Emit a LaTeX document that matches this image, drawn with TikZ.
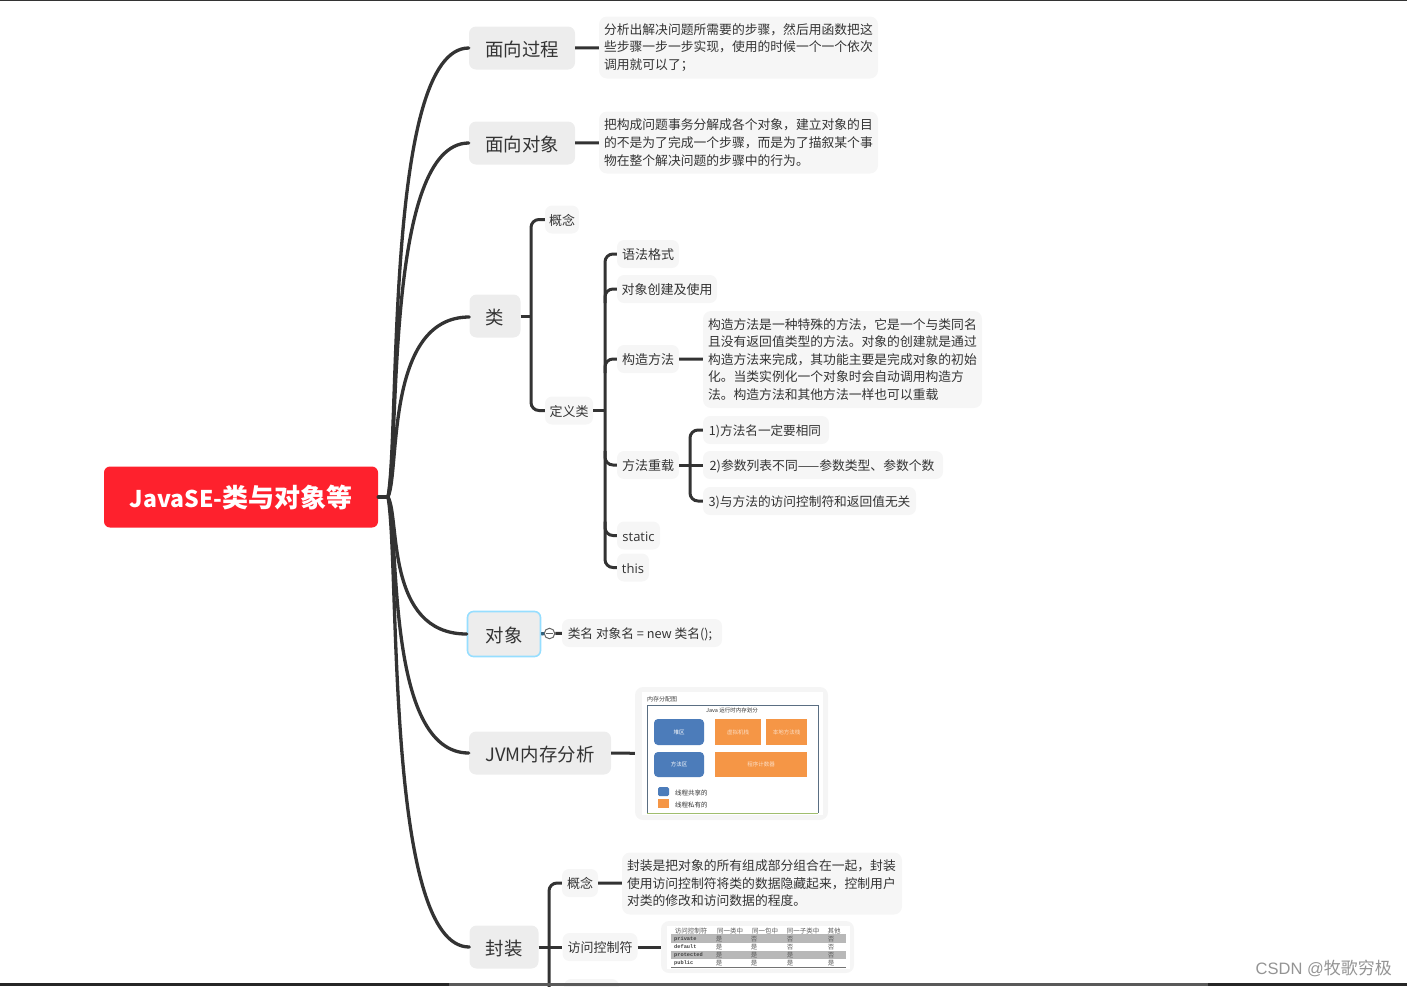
\documentclass[tikz,border=0pt]{standalone}
\usepackage{fontspec}
\setmainfont{Open Sans}
\newfontfamily\cjk{Noto Sans CJK SC}
\newfontfamily\tbl{Liberation Mono}
\newfontfamily\wmf{Liberation Sans}
\usetikzlibrary{calc}
\definecolor{ink}{RGB}{51,51,51}
\definecolor{boxblue}{RGB}{76,124,186}
\definecolor{boxorange}{RGB}{245,150,70}
\begin{document}
\begin{tikzpicture}[x=1pt,y=-1pt,
  mono/.style={font=\cjk\fontsize{#1}{#1}\selectfont,text=ink,inner sep=0pt},
  pill/.style={rounded corners=7pt,fill=black!7,inner sep=0pt,minimum height=43pt,text height=16pt,text depth=0pt},
  sm/.style={rounded corners=7pt,fill=black!3.5,minimum height=28pt,mono=13,text height=11pt,text depth=0pt},
  para/.style={rounded corners=8pt,fill=black!3.5,text=ink,inner xsep=5pt,inner ysep=0pt,align=left,font=\cjk\fontsize{12.8}{17.6}\selectfont},
  conn/.style={line width=3.3pt,draw=ink,line cap=round},
  branch/.style={line width=3pt,draw=ink,rounded corners=8pt},
  stub/.style={line width=3pt,draw=ink},
  imgbg/.style={rounded corners=8pt,fill=black!4,inner sep=0pt},
  tiny/.style={font=\cjk\fontsize{#1}{#1}\selectfont,inner sep=0pt},
  tb/.style={font=\cjk\fontsize{6.5}{6.5}\selectfont,text=black!65,inner sep=0pt},
  tm/.style={font=\tbl\bfseries\fontsize{5.3}{5.3}\selectfont,text=black!75,inner sep=0pt,anchor=west}]
\useasboundingbox (0,0) rectangle (1407,986);
\fill[ink] (0,0) rectangle (1407,1);
\coordinate (h) at (388,497);
% root
\node[fill={rgb,255:red,254;green,33;blue,45},rounded corners=6pt,minimum width=274pt,minimum height=61pt,text=white,inner sep=0pt,font=\cjk\bfseries] (root) at (241,497) {{\fontsize{23}{23}\selectfont JavaSE-}{\fontsize{26}{26}\selectfont 类与对象等}};
% level 1
\node[pill,minimum width=106pt,mono=18.4] (a) at (522,48) {面向过程};
\node[pill,minimum width=106pt,mono=18.4] (b) at (522,143) {面向对象};
\node[pill,minimum width=51pt,mono=18.4] (c) at (495,316) {类};
\node[rounded corners=6pt,fill=black!7,draw={rgb,255:red,150;green,222;blue,255},line width=1.6pt,minimum width=73pt,minimum height=45pt,mono=18.4,text height=16pt,text depth=0pt] (d) at (504,634) {对象};
\node[pill,minimum width=142pt,mono=18.4] (e) at (540,753) {JVM内存分析};
\node[pill,minimum width=69pt,mono=18.4] (f) at (504,947) {封装};
\draw[conn] (root.east) -- (h);
\foreach \n/\y in {a/48,b/143,c/317,d/634,e/753,f/947}{
  \pgfmathsetmacro\cy{\y*0.15+497*0.85}
  \draw[conn] (h) .. controls (400,\cy) and (385,\y) .. (\n.west |- 0,\y);
}
% paragraphs
\node[para,text width=269pt,minimum height=62pt] (a1) at (738.5,47.5) {分析出解决问题所需要的步骤，然后用函数把这\\些步骤一步一步实现，使用的时候一个一个依次\\调用就可以了；};
\node[para,text width=269pt,minimum height=62pt] (b1) at (738.5,142.5) {把构成问题事务分解成各个对象，建立对象的目\\的不是为了完成一个步骤，而是为了描叙某个事\\物在整个解决问题的步骤中的行为。};
\draw[stub] (a) -- (a1);
\draw[stub] (b) -- (b1);
% class subtree
\node[sm,minimum width=34pt] (k1) at (562,219.5) {概念};
\node[sm,minimum width=48pt] (k2) at (569,410.5) {定义类};
\node[sm,minimum width=62pt] (m1) at (648,254) {语法格式};
\node[sm,minimum width=100pt] (m2) at (667,289) {对象创建及使用};
\node[sm,minimum width=62pt] (m3) at (648,359) {构造方法};
\node[sm,minimum width=62pt] (m4) at (648,465) {方法重载};
\node[sm,minimum width=43pt,font=\fontsize{13}{13}\selectfont] (m5) at (638.5,535.5) {static};
\node[sm,minimum width=32pt,font=\fontsize{13}{13}\selectfont] (m6) at (633,567.5) {this};
\node[para,text width=269pt,minimum height=97pt] (m31) at (842.5,359.5) {构造方法是一种特殊的方法，它是一个与类同名\\且没有返回值类型的方法。对象的创建就是通过\\构造方法来完成，其功能主要是完成对象的初始\\化。当类实例化一个对象时会自动调用构造方\\法。构造方法和其他方法一样也可以重载};
\node[sm,minimum width=126pt,mono=12.6] (o1) at (766,430) {1)方法名一定要相同\hspace*{2pt}};
\node[sm,minimum width=240pt,mono=12.8] (o2) at (823,465) {2)参数列表不同——参数类型、参数个数\hspace*{2pt}};
\node[sm,minimum width=213pt,mono=12.7] (o3) at (809.5,501) {3)与方法的访问控制符和返回值无关};
\coordinate (b1c) at (531,316);
\coordinate (b2c) at (605,410.5);
\coordinate (b3c) at (690,465);
\draw[stub] (c) -- (b1c);
\draw[branch] (k1.west) -| (b1c) -- (b1c |- k2.west) -- (k2.west);
\draw[stub] (k2) -- (b2c);
\draw[branch] (m1.west) -| (b2c) -- (b2c |- m6.west) -- (m6.west);
\draw[branch] (m2.west) -| ($(b2c |- m2.west)+(0,14)$);
\draw[branch] (m3.west) -| ($(b2c |- m3.west)+(0,14)$);
\draw[branch] (m4.west) -| ($(b2c |- m4.west)+(0,-14)$);
\draw[branch] (m5.west) -| ($(b2c |- m5.west)+(0,-14)$);
\draw[stub] (m3) -- (m31);
\draw[stub] (m4) -- (o2);
\draw[branch] (o1.west) -| (b3c) -- (b3c |- o3.west) -- (o3.west);
% object
\node[sm,minimum width=160pt,mono=12.7] (d1) at (642,633) {类名 对象名 = new 类名();\hspace*{4pt}};
\node[circle,draw=black!60,fill=white,line width=1pt,minimum size=10.5pt,inner sep=0pt] (t) at (549.5,633.5) {};
\draw[stub] (d) -- (t);
\draw[stub] (t) -- (d1);
\draw[line width=3pt,draw={rgb,255:red,50;green,100;blue,130}] (d.east) -- (544,633.5);
\draw[black!60,line width=1pt] (546,633.5) -- (553,633.5);
% JVM picture
\node[imgbg,minimum width=193pt,minimum height=133pt] (jv) at (731.5,753.5) {};
\draw[stub] (e) -- (jv);
\fill[white] (642,692) rectangle (823,815);
\draw[draw={rgb,255:red,90;green,110;blue,130},line width=.8pt] (818,813) -- (818,705) -- (647,705) -- (647,813);
\draw[draw={rgb,255:red,160;green,190;blue,110},line width=.8pt] (647,813) -- (818,813);
\node[tiny=6,anchor=west,text=black!75] (j0) at (647,699) {内存分配图};
\node[tiny=5.5,text=black!80] (j1) at (732,710.5) {Java 运行时内存划分};
\node[tiny=5.5,rounded corners=4pt,fill=boxblue,text=white,minimum width=50pt,minimum height=26pt] (j2) at (679,732) {堆区};
\node[tiny=5.5,rounded corners=4pt,fill=boxblue,text=white,minimum width=50pt,minimum height=25pt] (j3) at (679,764.5) {方法区};
\node[tiny=5.5,fill=boxorange,text=white!70!boxorange,minimum width=46pt,minimum height=26pt] (j4) at (738,732) {虚拟机栈};
\node[tiny=5.5,fill=boxorange,text=white!70!boxorange,minimum width=41pt,minimum height=26pt] (j5) at (786.5,732) {本地方法栈};
\node[tiny=5.5,fill=boxorange,text=white!70!boxorange,minimum width=92pt,minimum height=25pt] (j6) at (761,764.5) {程序计数器};
\node[rounded corners=1.5pt,fill=boxblue,minimum width=11pt,minimum height=9pt,inner sep=0pt] (j7) at (663.5,791.5) {};
\node[fill=boxorange,minimum width=11pt,minimum height=9pt,inner sep=0pt] (j8) at (663.5,803.5) {};
\node[tiny=6.5,anchor=west,text=black!80] (j9) at (675,793) {线程共享的};
\node[tiny=6.5,anchor=west,text=black!80] (j10) at (675,804.5) {线程私有的};
% encapsulation subtree
\node[sm,minimum width=36pt] (g1) at (580,883) {概念};
\node[sm,minimum width=75pt] (g2) at (600,947) {访问控制符};
\node[para,text width=270pt,minimum height=62pt] (g11) at (762,883.5) {封装是把对象的所有组成部分组合在一起，封装\\使用访问控制符将类的数据隐藏起来，控制用户\\对类的修改和访问数据的程度。};
\node[imgbg,minimum width=193pt,minimum height=52pt] (tab) at (757.5,947) {};
\node[sm,minimum width=55pt] (g3) at (591.5,993) {};
\coordinate (b4c) at (549,947);
\coordinate (b4e) at (549,990);
\draw[stub] (f) -- (b4c);
\draw[branch] (g1.west) -| (b4e);
\draw[stub] (b4c) -- (g2);
\draw[stub] (g1) -- (g11);
\draw[stub] (g2) -- (tab);
% table picture
\fill[white] (667,926) rectangle (850,969);
\fill[black!28] (671,934) rectangle (846,943);
\fill[black!28] (671,951) rectangle (846,959);
\draw[black!55,line width=.6pt] (671,967) -- (846,967);
\node[tb] (t00) at (691,931) {访问控制符};
\node[tb] (t01) at (730,931) {同一类中};
\node[tb] (t02) at (765,931) {同一包中};
\node[tb] (t03) at (803,931) {同一子类中};
\node[tb] (t04) at (834,931) {其他};
\node[tm] (t10) at (674,939) {private};
\node[tm] (t20) at (674,947) {default};
\node[tm] (t30) at (674,955) {protected};
\node[tm] (t40) at (674,963) {public};
\foreach \r/\yy/\va/\vb/\vc/\vd in {1/939/是/否/否/否,2/947/是/是/否/否,3/955/是/是/是/否,4/963/是/是/是/是}{
  \node[tb] (t\r1) at (719,\yy) {\va};
  \node[tb] (t\r2) at (754,\yy) {\vb};
  \node[tb] (t\r3) at (790,\yy) {\vc};
  \node[tb] (t\r4) at (831,\yy) {\vd};
}
% window edges
\fill[black!85] (0,983) rectangle (449,986);
\fill[black!65] (449,983) rectangle (1208,986);
\fill[black!85] (1208,983) rectangle (1407,986);
% watermark
\node[anchor=east,inner sep=0pt,text=black!42] (wm) at (1392,968) {{\wmf\fontsize{16.5}{16.5}\selectfont CSDN @}{\cjk\fontsize{17}{17}\selectfont 牧歌穷极}};
\end{tikzpicture}
\end{document}
